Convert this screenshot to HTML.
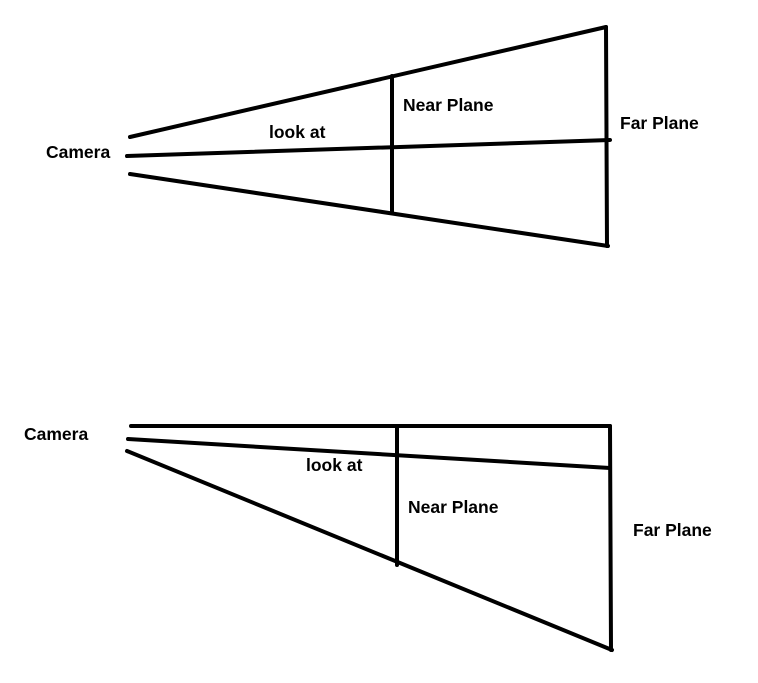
<!DOCTYPE html>
<html><head><meta charset="utf-8"><style>
html,body{margin:0;padding:0;background:#fff;width:758px;height:683px;overflow:hidden}
svg text{font-family:"Liberation Sans",sans-serif;font-weight:bold;font-size:17.5px;fill:#000}
</style></head><body>
<svg width="758" height="683" viewBox="0 0 758 683" xmlns="http://www.w3.org/2000/svg">
<g stroke="#000" stroke-width="4" stroke-linecap="round" fill="none">
<line x1="130" y1="137" x2="606" y2="27"/>
<line x1="127" y1="156" x2="610" y2="140"/>
<line x1="130" y1="174" x2="608" y2="246"/>
<line x1="392" y1="76" x2="392" y2="213"/>
<line x1="606" y1="27" x2="607" y2="246"/>
<line x1="131" y1="426" x2="610" y2="426"/>
<line x1="128" y1="439" x2="610" y2="468"/>
<line x1="127" y1="451" x2="612" y2="650"/>
<line x1="397" y1="428" x2="397" y2="565"/>
<line x1="610" y1="426" x2="611" y2="650"/>
</g>
<text x="46" y="158">Camera</text>
<text x="269" y="138">look at</text>
<text x="403" y="111">Near Plane</text>
<text x="620" y="129">Far Plane</text>
<text x="24" y="440">Camera</text>
<text x="306" y="471">look at</text>
<text x="408" y="513">Near Plane</text>
<text x="633" y="536">Far Plane</text>
</svg>
</body></html>
